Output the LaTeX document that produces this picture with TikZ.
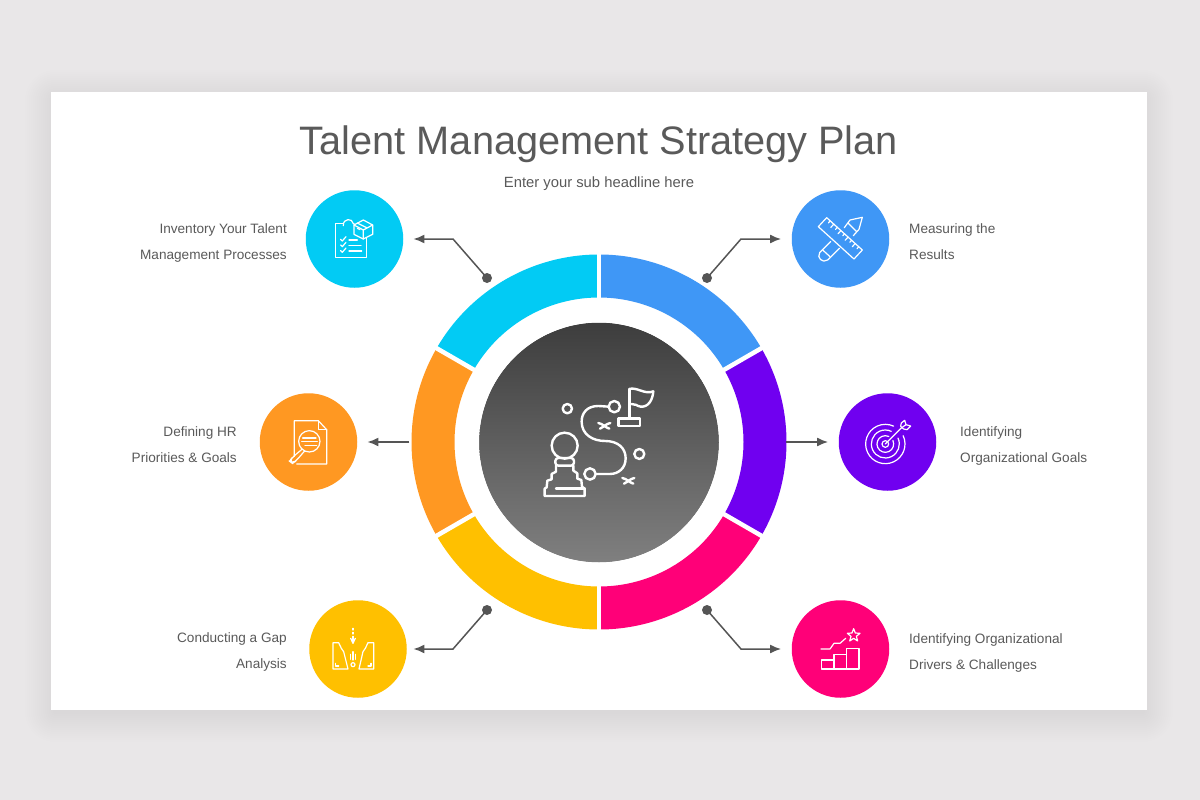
\documentclass[tikz,border=0pt]{standalone}
\usepackage{fontspec}
\setmainfont{Liberation Sans}
\usetikzlibrary{arrows.meta}
\definecolor{bgc}{HTML}{E9E7E8}
\definecolor{txt}{HTML}{5A5A5A}
\definecolor{con}{HTML}{555555}
\definecolor{ccyan}{HTML}{02CBF4}
\definecolor{cblue}{HTML}{3F97F6}
\definecolor{cpurple}{HTML}{7000F0}
\definecolor{cpink}{HTML}{FF0078}
\definecolor{cyellow}{HTML}{FFC000}
\definecolor{corange}{HTML}{FF9822}
\tikzset{
  x=1pt,y=-1pt,
  badge/.style={circle,minimum size=97.5pt,inner sep=0pt,fill=#1},
  lbl/.style={text=txt,inner sep=0pt,font=\fontsize{13.6}{25.2}\selectfont},
  lblr/.style={lbl,anchor=east,align=right},
  lbll/.style={lbl,anchor=west,align=left},
  conn/.style={draw=con,line width=1.5pt},
  arrowc/.style={conn,-{Latex[length=11pt,width=9pt]},shorten >=#1},
  dotn/.style={circle,fill=con,minimum size=10pt,inner sep=0pt},
  stub/.style={circle,minimum size=0pt,inner sep=0pt},
  icon/.style={draw=white,line width=1.2pt,line join=round,line cap=round},
  iconb/.style={draw=white,line width=2.4pt,line join=round,line cap=round},
  iscope/.style={shift={#1},x=0.3333pt,y=-0.3333pt}
}
\newcommand{\ringseg}[3]{\fill[#1] (#2:187.5) arc[start angle=#2,end angle=#3,radius=187.5] -- (#3:144.5) arc[start angle=#3,end angle=#2,radius=144.5] -- cycle;}
\newcommand{\twolines}[2]{\strut #1\\\strut #2}
\begin{document}
\begin{tikzpicture}
\useasboundingbox (0,0) rectangle (1200,800);
\fill[bgc] (0,0) rectangle (1200,800);
% soft card shadow
\foreach \e in {30,28,...,2}{
  \fill[black,opacity=0.004,rounded corners=\e pt] (51-\e+4,92+8-\e) rectangle (1147+\e-4,710+2+\e);
}
\fill[white] (51,92) rectangle (1147,710);
% title
\node[text=txt,inner sep=0pt,font=\fontsize{39.7}{48}\selectfont] (title) at (599,144) {Talent Management Strategy Plan};
\node[text=txt,inner sep=0pt,font=\fontsize{14.8}{18}\selectfont] (sub) at (599,184) {Enter your sub headline here};
% ring
\begin{scope}[shift={(599,442)}]
\ringseg{cblue}{-90}{-30}
\ringseg{cpurple}{-30}{30}
\ringseg{cpink}{30}{90}
\ringseg{cyellow}{90}{150}
\ringseg{corange}{150}{210}
\ringseg{ccyan}{210}{270}
\foreach \a in {30,90,150,210,270,330}{
  \draw[white,line width=4.5pt] (\a:140) -- (\a:192);
}
\end{scope}
\node[circle,minimum size=240pt,inner sep=0pt,top color=black!76,bottom color=black!50] (hub) at (599,442.5) {};
\draw[white,line width=2pt] (hub.center) circle[radius=121];
% badges
\node[badge=ccyan] (c1) at (354.5,239) {};
\node[badge=cblue] (c2) at (840.5,239) {};
\node[badge=corange] (c3) at (308.5,442) {};
\node[badge=cpurple] (c4) at (887.5,442) {};
\node[badge=cyellow] (c5) at (358,649) {};
\node[badge=cpink] (c6) at (840.5,649) {};
% labels
\node[lblr] (l1) at (287,241.5) {\twolines{Inventory Your Talent}{Management Processes}};
\node[lblr] (l3) at (237,444.5) {\twolines{Defining HR}{Priorities \& Goals}};
\node[lblr] (l5) at (287,650.5) {\twolines{Conducting a Gap}{Analysis}};
\node[lbll] (l2) at (909,241.5) {\twolines{Measuring the}{Results}};
\node[lbll] (l4) at (960,444.5) {\twolines{Identifying}{Organizational Goals}};
\node[lbll] (l6) at (909,651.5) {\twolines{Identifying Organizational}{Drivers \& Challenges}};
% connectors
\node[dotn] (d1) at (487,278) {};
\node[dotn] (d2) at (707,278) {};
\node[dotn] (d5) at (487,610) {};
\node[dotn] (d6) at (707,610) {};
\node[stub] (s3) at (409.5,442) {};
\node[stub] (s4) at (786,442) {};
\draw[arrowc=10pt] (d1.center) -- (453,239) -- (c1.east);
\draw[arrowc=10.5pt] (d2.center) -- (741,239) -- (c2.west);
\draw[arrowc=10pt] (s3) -- (c3.east);
\draw[arrowc=10.5pt] (s4) -- (c4.west);
\draw[arrowc=6.5pt] (d5.center) -- (453,649) -- (c5.east);
\draw[arrowc=10.5pt] (d6.center) -- (741,649) -- (c6.west);
% centre icon
\begin{scope}[iscope={(470,320)}]
\begin{scope}[iconb]
\draw (284,377) circle[radius=39];
\draw[rounded corners=3pt] (256,414) rectangle (312,437);
\draw (258,437) -- (258,455) -- (245,462) -- (245,478) -- (232,482) -- (230,502) -- (224,506) -- (224,528) -- (344,528) -- (344,506) -- (336,500) -- (334,480) -- (322,476) -- (322,460) -- (310,452) -- (310,437);
\draw (258,506) -- (344,506);
\draw (433,260) circle[radius=17];
\draw (416,260) -- (385,258) .. controls (350,258) and (335,280) .. (335,305) .. controls (335,345) and (370,363) .. (405,363) .. controls (445,363) and (467,385) .. (467,415) .. controls (467,445) and (445,462) .. (420,462) -- (378,462);
\draw (360,462) circle[radius=17];
\draw (292,266) circle[radius=14];
\draw (508,402) circle[radius=15];
\draw (385,309) .. controls (400,312) and (405,322) .. (418,326);
\draw (421,309) .. controls (408,312) and (402,320) .. (390,326);
\draw (457,474) .. controls (472,477) and (477,487) .. (490,491);
\draw (493,474) .. controls (480,477) and (474,485) .. (462,491);
\draw (478,207) -- (478,295);
\draw (446,296) rectangle (510,318);
\draw (478,207) .. controls (500,200) and (525,225) .. (550,214) .. controls (548,240) and (535,262) .. (512,260) .. controls (500,258) and (495,250) .. (484,252);
\end{scope}
\end{scope}
% clipboard icon
\begin{scope}[iscope={(300,185)}]
\begin{scope}[icon]
\draw (130,115) -- (107,115) -- (107,218) -- (200,218) -- (200,160);
\draw (130,122) .. controls (128,100) and (158,98) .. (160,116) -- (165,118);
\draw (162,120) -- (190,105) -- (218,120) -- (218,148) -- (190,162) -- (162,148) -- cycle;
\draw (162,120) -- (190,135) -- (218,120) (190,135) -- (190,162);
\draw (172,114) -- (200,128) (172,130) -- (180,134);
\foreach \y in {163,180,197}{
  \draw (122,\y) -- (127,\y+5) -- (138,\y-8);
}
\draw (147,165) -- (172,165) (147,182) -- (183,182) (147,198) -- (185,198);
\end{scope}
\end{scope}
% ruler and pencil icon
\begin{scope}[iscope={(785,185)}]
\begin{scope}[icon]
\draw (195,105) -- (232,97) -- (222,133) (195,105) -- (178,128) (222,133) -- (205,152) (190,115) -- (215,140);
\draw (137,170) -- (104,203) .. controls (94,218) and (113,236) .. (128,225) -- (163,190);
\draw (113,195) -- (135,215);
\draw (100,125) -- (125,98) -- (232,195) -- (207,222) -- cycle;
\foreach \t [count=\i] in {0.1,0.2,...,0.9}{
  \pgfmathsetmacro{\px}{125+107*\t}
  \pgfmathsetmacro{\py}{98+97*\t}
  \pgfmathsetmacro{\ll}{mod(\i,2)==0 ? 13 : 8}
  \draw (\px,\py) -- ++(-0.67*\ll,0.74*\ll);
}
\end{scope}
\end{scope}
% document and magnifier icon
\begin{scope}[iscope={(255,388)}]
\begin{scope}[icon]
\draw (118,205) -- (118,98) -- (190,98) -- (215,125) -- (215,228) -- (125,228);
\draw (190,98) -- (190,125) -- (215,125);
\draw (163,160) circle[radius=32];
\draw (143,150) -- (183,150) (140,160) -- (187,160) (150,172) -- (185,172);
\draw[rounded corners=4pt] (142,183) -- (110,210) -- (104,220) -- (112,226) -- (122,220) -- (148,190);
\end{scope}
\end{scope}
% target icon
\begin{scope}[iscope={(833,388)}]
\begin{scope}[icon]
\foreach \r in {59,42,25}{
  \draw ({157+\r*cos(-25)},{168+\r*sin(-25)}) arc[start angle=-25,end angle=295,radius=\r];
}
\draw (157,168) circle[radius=10];
\draw (157,168) -- (205,120);
\draw (203,115) -- (205,105) -- (215,97) -- (219,110) -- (233,114) -- (222,125) -- (212,123) -- cycle;
\draw (205,120) -- (219,110);
\end{scope}
\end{scope}
% gap icon
\begin{scope}[iscope={(303,595)}]
\begin{scope}[icon]
\draw (90,143) -- (107,143) -- (115,160) -- (122,170) -- (135,222) -- (90,222) -- cycle;
\draw (212,143) -- (195,143) -- (187,160) -- (180,170) -- (168,222) -- (212,222) -- cycle;
\draw (98,205) -- (98,213) -- (107,213);
\draw (204,205) -- (204,213) -- (195,213);
\draw (150,100) -- (150,105) (150,112) -- (150,117) (150,124) -- (150,143);
\draw (143,130) -- (150,145) -- (157,130);
\draw (150,170) -- (150,195) (142,178) -- (142,193) (158,178) -- (158,193);
\draw (150,209) circle[radius=6];
\end{scope}
\end{scope}
% chart icon
\begin{scope}[iscope={(785,595)}]
\begin{scope}[icon]
\draw (110,195) rectangle (147,222);
\draw (147,178) rectangle (185,222);
\draw (185,160) rectangle (222,222);
\draw (108,162) -- (135,162) -- (147,145) -- (165,145) -- (182,130);
\draw (206,101) -- (211,114) -- (225,115) -- (214,124) -- (218,138) -- (206,130) -- (194,138) -- (198,124) -- (187,115) -- (201,114) -- cycle;
\end{scope}
\end{scope}
\end{tikzpicture}
\end{document}
